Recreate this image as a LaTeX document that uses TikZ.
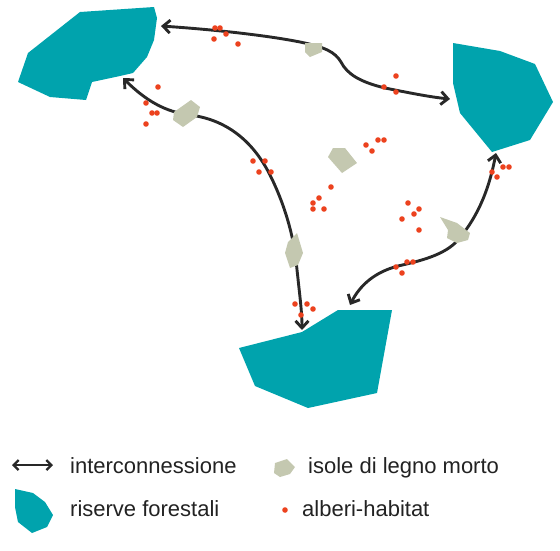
\documentclass[tikz,border=0pt]{standalone}
\usepackage{fontspec}
\setmainfont{Liberation Sans}
\usetikzlibrary{arrows.meta}
\definecolor{riserva}{RGB}{0,163,173}
\definecolor{isola}{RGB}{196,200,176}
\definecolor{albero}{RGB}{236,66,30}
\definecolor{linkc}{RGB}{40,40,40}
\definecolor{testo}{RGB}{34,34,34}
\begin{document}
\begin{tikzpicture}[x=1pt,y=-1pt,
  reserve/.style={fill=riserva,draw=none},
  islandshape/.style={fill=isola,draw=none},
  link/.style={draw=linkc,line width=2.9pt,line cap=round,
    {Straight Barb[length=7pt,width=13pt]}-{Straight Barb[length=7pt,width=13pt]}},
  legendlink/.style={draw=linkc,line width=2.3pt,
    {Straight Barb[length=5pt,width=10pt]}-{Straight Barb[length=5pt,width=10pt]}},
  label/.style={font=\fontsize{22}{26}\selectfont,text=testo,inner sep=0pt,anchor=base west}]
\useasboundingbox (0,0) rectangle (560,550);

% forest reserves
\fill[reserve] (80,12) -- (154,7) -- (157,18) -- (154,40) -- (147,57) -- (133,73) -- (120,76) -- (92,82) -- (86,100) -- (50,97) -- (18,82) -- (28,53) -- cycle;
\fill[reserve] (453,43) -- (500,51) -- (535,64) -- (553,102) -- (530,140) -- (492,152) -- (460,113) -- (453,83) -- cycle;
\fill[reserve] (338,310) -- (392,310) -- (377,393) -- (308,408) -- (255,386) -- (239,348) -- (302,332) -- cycle;

% arrow end points
\coordinate (tl1) at (161,26);
\coordinate (tr1) at (450,99);
\coordinate (tl2) at (123,78);
\coordinate (bo2) at (302,330);
\coordinate (bo3) at (350,305);
\coordinate (tr3) at (496,153);

% interconnections
\draw[link] (tl1) .. controls (220,30) and (270,36) .. (300,42) .. controls (325,47) and (335,52) .. (341,62) .. controls (347,74) and (360,82) .. (385,88) .. controls (410,93) and (430,97) .. (tr1);
\draw[link] (tl2) .. controls (145,100) and (165,112) .. (190,115) .. controls (230,120) and (255,145) .. (270,175) .. controls (285,205) and (293,235) .. (296,260) .. controls (299,290) and (302,310) .. (bo2);
\draw[link] (bo3) .. controls (360,285) and (375,272) .. (398,266) .. controls (420,261) and (445,255) .. (458,240) .. controls (475,220) and (488,195) .. (tr3);

% dead wood islands
\fill[islandshape] (305,43) -- (322,43) -- (322,52) -- (310,57) -- (305,52) -- cycle;
\fill[islandshape] (191,100) -- (200,107) -- (197,117) -- (183,127) -- (173,120) -- (174,112) -- cycle;
\fill[islandshape] (333,148) -- (345,148) -- (357,163) -- (342,173) -- (328,157) -- cycle;
\fill[islandshape] (297,233) -- (303,253) -- (298,265) -- (290,268) -- (285,253) -- (288,242) -- cycle;
\fill[islandshape] (440,217) -- (457,223) -- (470,233) -- (468,240) -- (457,243) -- (447,238) -- (448,230) -- cycle;

% habitat trees
\foreach \p in {(215,28),(220,28),(226,34),(214,39),(238,44),
  (158,87),(146,103),(152,113),(157,113),(146,124),
  (253,161),(265,161),(259,172),(271,172),
  (396,76),(384,87),(396,92),
  (366,145),(378,140),(384,140),(372,151),
  (331,187),(319,198),(313,203),(313,209),(324,209),
  (408,203),(419,209),(414,214),(402,219),(419,230),
  (396,267),(407,262),(413,262),(402,273),
  (503,167),(509,167),(492,172),(497,177),
  (295,304),(307,304),(313,309),(301,315)}
  \fill[albero] \p circle (2.8);

% legend
\coordinate (lga) at (12,465);
\coordinate (lgb) at (53,465);
\draw[legendlink] (lga) -- (lgb);
\node[label] (t1) at (70,473) {interconnessione};
\fill[islandshape] (287,459) -- (295,467) -- (290,474) -- (280,477) -- (274,473) -- (275,463) -- cycle;
\node[label] (t2) at (308,473) {isole di legno morto};
\fill[reserve] (15,489) -- (33,493) -- (45,502) -- (53,515) -- (47,527) -- (32,533) -- (18,522) -- (15,507) -- cycle;
\node[label] (t3) at (70,516) {riserve forestali};
\fill[albero] (285,510) circle (2.8);
\node[label] (t4) at (302,516) {alberi-habitat};
\end{tikzpicture}
\end{document}
